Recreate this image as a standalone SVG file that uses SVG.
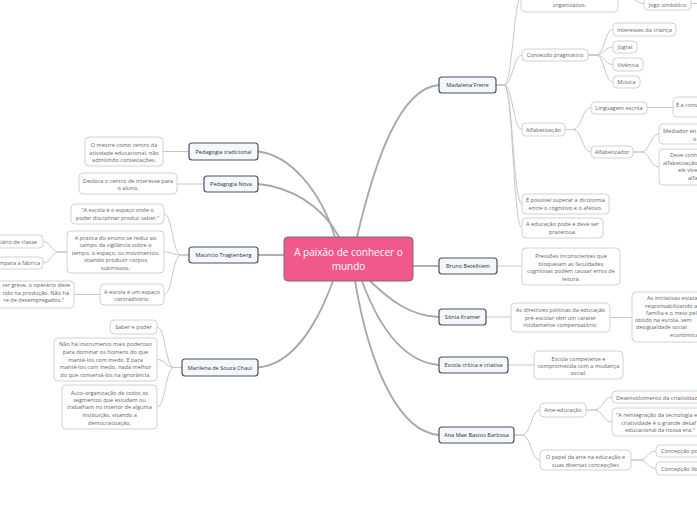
<svg xmlns="http://www.w3.org/2000/svg" width="697" height="520" viewBox="0 0 697 520">
<style>
.bg{fill:#ffffff}
.c0{fill:none;stroke:#a8a8a8;stroke-width:1.8}
.c1{fill:none;stroke:#c8c8c8;stroke-width:1}
.root rect{fill:#f2598b;stroke:#7a6a70;stroke-width:1}
.root text{fill:#ffffff;font-family:"Open Sans","Liberation Sans",sans-serif;font-size:10px;text-anchor:middle}
.l1 rect{fill:#f4f7fc;stroke:#4b5262;stroke-width:1.2}
.l1 text{fill:#333;font-family:"Open Sans","Liberation Sans",sans-serif;font-size:5.6px;text-anchor:middle}
.l2 rect{fill:#fff;stroke:#d2d2d2;stroke-width:1}
.l2 text{fill:#666;font-family:"Open Sans","Liberation Sans",sans-serif;font-size:5.6px;text-anchor:middle}
.l2 text.s{text-anchor:start}
.l2 text.e{text-anchor:end}
</style>
<rect class="bg" x="0" y="0" width="697" height="520"/>
<g id="connectors">
<path class="c0" d="M357,237 C375,160 400,88 439,85"/>
<path class="c0" d="M413,266 L439,266"/>
<path class="c0" d="M370,281 C390,300 410,316 439,317"/>
<path class="c0" d="M362,281 C380,330 405,362 439,365"/>
<path class="c0" d="M355,281 C370,370 400,432 439,435"/>
<path class="c0" d="M335,237 C320,190 290,155 258,151.5"/>
<path class="c0" d="M339,237 C322,205 290,187 258,184"/>
<path class="c0" d="M284,255 L258,255"/>
<path class="c0" d="M333,281 C315,330 290,365 258,367.5"/>
<path class="c1" d="M496,85 H504 C513,85 513,-4 522,-4"/>
<path class="c1" d="M496,85 H504 C513,85 513,55 522,55"/>
<path class="c1" d="M496,85 H504 C513,85 513,129.5 522,129.5"/>
<path class="c1" d="M496,85 H504 C513,85 513,204 522,204"/>
<path class="c1" d="M496,85 H504 C513,85 513,228 522,228"/>
<path class="c1" d="M618,-4 H626 C635,-4 635,3.5 644,3.5"/>
<path class="c1" d="M691,3.5 H697"/>
<path class="c1" d="M588,55 H596 C604.5,55 604.5,29.5 613,29.5"/>
<path class="c1" d="M588,55 H596 C604.5,55 604.5,47 613,47"/>
<path class="c1" d="M588,55 H596 C604.5,55 604.5,64.5 613,64.5"/>
<path class="c1" d="M588,55 H596 C604.5,55 604.5,82 613,82"/>
<path class="c1" d="M565,129.5 H573 C582,129.5 582,107.5 591,107.5"/>
<path class="c1" d="M565,129.5 H573 C582,129.5 582,152 591,152"/>
<path class="c1" d="M647,107.5 H673"/>
<path class="c1" d="M633,152 H641 C650,152 650,134 659,134"/>
<path class="c1" d="M633,152 H641 C650,152 650,167 659,167"/>
<path class="c1" d="M497,266 H522"/>
<path class="c1" d="M486,317 H511"/>
<path class="c1" d="M610,317.5 H632"/>
<path class="c1" d="M508,365 H534"/>
<path class="c1" d="M514,435 H522 C531,435 531,410 540,410"/>
<path class="c1" d="M514,435 H522 C531,435 531,460 540,460"/>
<path class="c1" d="M586,410 H594 C603,410 603,397 612,397"/>
<path class="c1" d="M586,410 H594 C603,410 603,422 612,422"/>
<path class="c1" d="M631,460 H639 C647.5,460 647.5,451 656,451"/>
<path class="c1" d="M631,460 H639 C647.5,460 647.5,468.5 656,468.5"/>
<path class="c1" d="M189,151.5 H163"/>
<path class="c1" d="M204,184 H177"/>
<path class="c1" d="M189,255 H181 C172.5,255 172.5,214 164,214"/>
<path class="c1" d="M189,255 H181 C172.5,255 172.5,252 164,252"/>
<path class="c1" d="M189,255 H181 C172.5,255 172.5,294.5 164,294.5"/>
<path class="c1" d="M67,252 H59 C51,252 51,241.5 43,241.5"/>
<path class="c1" d="M67,252 H59 C51,252 51,263 43,263"/>
<path class="c1" d="M100,294.5 H74"/>
<path class="c1" d="M182,367.5 H174 C165.5,367.5 165.5,327 157,327"/>
<path class="c1" d="M182,367.5 H174 C165.5,367.5 165.5,359.5 157,359.5"/>
<path class="c1" d="M182,367.5 H174 C165.5,367.5 165.5,407 157,407"/>
</g>
<g id="root" class="root">
<rect x="284" y="237" width="129" height="44" rx="4"/>
<text x="348.5" y="256">A paixão de conhecer o</text>
<text x="348.5" y="270">mundo</text>
</g>
<g id="madalena" class="l1"><rect x="439" y="77" width="57" height="16" rx="3"/><text x="467.5" y="87">Madalena Freire</text></g>
<g id="bruno" class="l1"><rect x="439" y="258" width="58" height="16" rx="3"/><text x="468" y="268">Bruno Betelhiem</text></g>
<g id="sonia" class="l1"><rect x="439" y="309" width="47" height="16" rx="3"/><text x="462.5" y="319">Sônia Kramer</text></g>
<g id="escola" class="l1"><rect x="439" y="357" width="69" height="16" rx="3"/><text x="473.5" y="367">Escola crítica e criativa</text></g>
<g id="anamae" class="l1"><rect x="439" y="427" width="75" height="16" rx="3"/><text x="476.5" y="437">Ana Mae Bastos Barbosa</text></g>
<g id="pedtrad" class="l1"><rect x="189" y="143" width="69" height="17" rx="3"/><text x="223.5" y="153.5">Pedagogia tradicional</text></g>
<g id="pednova" class="l1"><rect x="204" y="176" width="54" height="16" rx="3"/><text x="231" y="186">Pedagogia Nova</text></g>
<g id="mauricio" class="l1"><rect x="189" y="247" width="69" height="16" rx="3"/><text x="223.5" y="257">Mauricio Tragtenberg</text></g>
<g id="marilena" class="l1"><rect x="182" y="359" width="76" height="17" rx="3"/><text x="220" y="369.5">Marilena de Souza Chaui</text></g>

<g id="mestre" class="l2"><rect x="85" y="137" width="78" height="29" rx="4"/>
<text x="124" y="147">O mestre como centro da</text><text x="124" y="154.5">atividade educacional, não</text><text x="124" y="162">admitindo contestações.</text></g>
<g id="desloca" class="l2"><rect x="79" y="173" width="98" height="21" rx="4"/>
<text x="128" y="182.7">Desloca o centro de interesse para</text><text x="128" y="190.3">o aluno.</text></g>
<g id="escolaespaco" class="l2"><rect x="71" y="204" width="93" height="20" rx="4"/>
<text x="117.5" y="212">"A escola é o espaço onde o</text><text x="117.5" y="220">poder disciplinar produz saber."</text></g>
<g id="pratica" class="l2"><rect x="67" y="231" width="97" height="42" rx="4"/>
<text x="115.5" y="239.6">A prática do ensino se reduz ao</text><text x="115.5" y="247.2">campo da vigilância sobre o</text><text x="115.5" y="254.8">tempo, o espaço, os movimentos.</text><text x="115.5" y="262.4">visando produzir corpos</text><text x="115.5" y="270">submissos.</text></g>
<g id="diario" class="l2"><rect x="-20" y="235" width="63" height="13" rx="4"/><text class="e" x="37" y="243.5">iário de classe</text></g>
<g id="compara" class="l2"><rect x="-20" y="257" width="63" height="12" rx="4"/><text class="e" x="40" y="265">mpara a fábrica</text></g>
<g id="contraditorio" class="l2"><rect x="100" y="284" width="64" height="21" rx="4"/>
<text x="132" y="293.7">A escola é um espaço</text><text x="132" y="301">contraditório.</text></g>
<g id="greve" class="l2"><rect x="-40" y="281" width="114" height="27" rx="4"/>
<text class="e" x="70" y="287.2">zer greve, o operário deve</text><text class="e" x="69" y="294.5">rido na produção. Não há</text><text class="e" x="64" y="301.8">re de desempregados."</text></g>
<g id="saber" class="l2"><rect x="110" y="320" width="47" height="14" rx="4"/><text x="133.5" y="329">Saber e poder</text></g>
<g id="naoha" class="l2"><rect x="54" y="338" width="103" height="43" rx="4"/>
<text x="105.5" y="346.3">Não há instrumento mais poderoso</text><text x="105.5" y="354">para dominar os homens do que</text><text x="105.5" y="361.7">mantê-los com medo. E para</text><text x="105.5" y="369.4">mantê-los com medo, nada melhor</text><text x="105.5" y="377">do que conservá-los na ignorância.</text></g>
<g id="auto" class="l2"><rect x="62" y="385" width="95" height="44" rx="4"/>
<text x="109.5" y="394.7">Auto-organização de todos os</text><text x="109.5" y="402">segmentos que estudam ou</text><text x="109.5" y="409.3">trabalham no interior de alguma</text><text x="109.5" y="417">instituição, visando a</text><text x="109.5" y="424.7">democratização.</text></g>

<g id="organizativo" class="l2"><rect x="521" y="-20" width="97" height="32" rx="4"/>
<text x="569.5" y="7">organizativo.</text></g>
<g id="jogo" class="l2"><rect x="644" y="-3" width="47" height="13" rx="4"/><text x="667.5" y="6.5">Jogo simbólico</text></g>
<g id="conteudo" class="l2"><rect x="522" y="49" width="66" height="12" rx="4"/><text x="555" y="57">Conteúdo pragmático</text></g>
<g id="interesses" class="l2"><rect x="613" y="23" width="63" height="13" rx="4"/><text x="644.5" y="31.5">Interesses da criança</text></g>
<g id="jogral" class="l2"><rect x="613" y="41" width="24" height="12" rx="4"/><text x="625" y="49">Jogral</text></g>
<g id="vivencia" class="l2"><rect x="613" y="58" width="30" height="13" rx="4"/><text x="628" y="66.5">Vivência</text></g>
<g id="musica" class="l2"><rect x="613" y="76" width="27" height="12" rx="4"/><text x="626.5" y="84">Música</text></g>
<g id="alfabetizacao" class="l2"><rect x="522" y="123" width="43" height="13" rx="4"/><text x="543.5" y="131.5">Alfabetização</text></g>
<g id="linguagem" class="l2"><rect x="591" y="102" width="56" height="12" rx="4"/><text x="619" y="110">Linguagem escrita</text></g>
<g id="construcao" class="l2"><rect x="673" y="97" width="60" height="20" rx="4"/><text class="s" x="676" y="107">É a cons</text></g>
<g id="alfabetizador" class="l2"><rect x="591" y="146" width="42" height="12" rx="4"/><text x="612" y="154">Alfabetizador</text></g>
<g id="mediador" class="l2"><rect x="659" y="124" width="60" height="20" rx="4"/>
<text class="s" x="663" y="133">Mediador en</text><text class="s" x="693" y="141">o</text></g>
<g id="deve" class="l2"><rect x="659" y="149" width="60" height="36" rx="4"/>
<text class="s" x="670" y="157">Deve conh</text><text class="s" x="663" y="164.7">alfabetização</text><text class="s" x="678" y="172.4">ele vive</text><text class="s" x="688" y="180.1">alfa</text></g>
<g id="dicotomia" class="l2"><rect x="522" y="194" width="87" height="20" rx="4"/>
<text x="565.5" y="202">É possível superar a dicotomia</text><text x="565.5" y="210">entre o cognitivo e o afetivo.</text></g>
<g id="prazerosa" class="l2"><rect x="522" y="218" width="81" height="20" rx="4"/>
<text x="562.5" y="226.3">A educação pode e deve ser</text><text x="562.5" y="234.3">prazerosa.</text></g>
<g id="pressoes" class="l2"><rect x="522" y="248" width="98" height="37" rx="4"/>
<text x="571" y="258">Pressões inconscientes que</text><text x="571" y="265.5">bloqueiam as faculdades</text><text x="571" y="273">cognitivas podem causar erros de</text><text x="571" y="280.5">leitura.</text></g>
<g id="diretrizes" class="l2"><rect x="511" y="303" width="99" height="29" rx="4"/>
<text x="560.5" y="312">As diretrizes políticas da educação</text><text x="560.5" y="319.5">pré-escolar têm um caráter</text><text x="560.5" y="327">nitidamente compensatório.</text></g>
<g id="iniciativas" class="l2"><rect x="632" y="292" width="80" height="50" rx="4"/>
<text class="s" x="647" y="300.3">As iniciativas estata</text><text class="s" x="645" y="307.5">responsabilizando a</text><text class="s" x="646" y="314.7">família e o meio pel</text><text class="s" x="635" y="322">obtido na escola, sem</text><text class="s" x="636" y="329.3">desigualdade social</text><text class="s" x="670" y="336.5">econômica</text></g>
<g id="competente" class="l2"><rect x="534" y="351" width="89" height="28" rx="4"/>
<text x="578.5" y="361.3">Escola competente e</text><text x="578.5" y="368.3">comprometida com a mudança</text><text x="578.5" y="375.3">social.</text></g>
<g id="arte" class="l2"><rect x="540" y="403" width="46" height="14" rx="4"/><text x="563" y="412">Arte-educação</text></g>
<g id="desenvolvimento" class="l2"><rect x="612" y="391" width="100" height="12" rx="4"/><text class="s" x="616" y="399.5">Desenvolvimento da criatividad</text></g>
<g id="reintegracao" class="l2"><rect x="612" y="408" width="96" height="28" rx="4"/>
<text class="s" x="616" y="417">"A reintegração da tecnologia e</text><text class="s" x="621" y="424.5">criatividade é o grande desaf</text><text x="660" y="432">educacional da nossa era."</text></g>
<g id="papel" class="l2"><rect x="540" y="450" width="91" height="20" rx="4"/>
<text x="585.5" y="459.3">O papel da arte na educação e</text><text x="585.5" y="466.5">suas diversas concepções</text></g>
<g id="positivista" class="l2"><rect x="656" y="445" width="60" height="12" rx="4"/><text class="s" x="661" y="453">Concepção po</text></g>
<g id="liberal" class="l2"><rect x="656" y="462" width="60" height="13" rx="4"/><text class="s" x="661" y="471">Concepção lib</text></g>
</svg>
